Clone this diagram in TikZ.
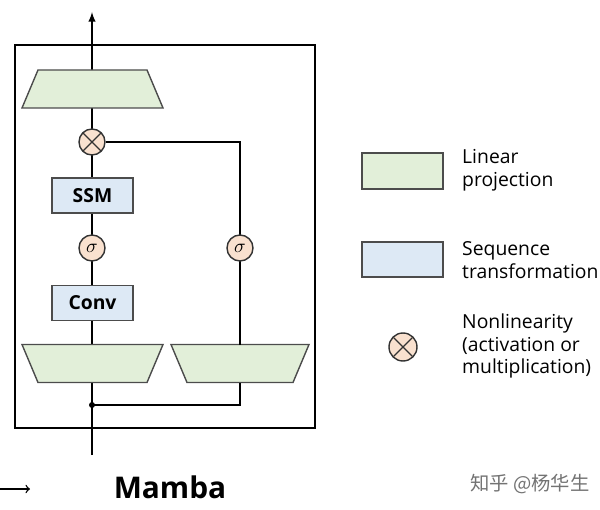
\documentclass[tikz,border=0pt]{standalone}
\usepackage{fontspec}
\setmainfont{Open Sans}
\newfontfamily\cjk{Noto Sans CJK SC}
\usetikzlibrary{calc,positioning,arrows}
\definecolor{lingreen}{HTML}{E2EFD9}
\definecolor{seqblue}{HTML}{DDE9F5}
\definecolor{nlpeach}{HTML}{F9E1CF}
\begin{document}
\begin{tikzpicture}[font=\fontsize{11}{13}\selectfont]
          % Setup the styles
          \tikzset{proj style/.style={draw=black!70, line width=0.8pt, fill=lingreen},
                   seq style/.style={rectangle, draw=black!70, line width=0.8pt,
                                     fill=seqblue, minimum width=1.62cm,
                                     minimum height=0.7cm, font=\fontsize{11}{13}\selectfont\bfseries},
                   nl style/.style={circle, draw=black!80, line width=0.8pt,
                                    fill=nlpeach, minimum size=0.52cm, inner sep=0pt},
                   mul style/.style={nl style,
                                     path picture={\draw[line width=0.8pt]
                                       ($(path picture bounding box.center)+(45:0.26)$) --
                                       ($(path picture bounding box.center)+(225:0.26)$)
                                       ($(path picture bounding box.center)+(135:0.26)$) --
                                       ($(path picture bounding box.center)+(315:0.26)$);}},
                   wire/.style={line width=0.9pt}}
          \useasboundingbox (0,0) rectangle (12,10.18);
          % Main arrow through the block
          \coordinate (in) at (1.84,1.08);
          \coordinate (out) at (1.84,9.94);
          \coordinate (fork) at (1.84,2.08);
          \coordinate (gatetop) at (4.8,3.29);
          \coordinate (gatebot) at (4.8,2.53);
          \draw[wire,-latex] (in) -- (out);
          % Outer box
          \node[draw, line width=1.7pt, minimum width=6cm, minimum height=7.66cm,
                inner sep=0pt] (block) at (3.3,5.45) {};
          % Projections
          \draw[proj style] (0.44,8.02) -- (3.26,8.02) -- (2.94,8.78) -- (0.76,8.78) -- cycle;
          \draw[proj style] (0.44,3.29) -- (3.26,3.29) -- (2.94,2.53) -- (0.76,2.53) -- cycle;
          \draw[proj style] (3.42,3.29) -- (6.18,3.29) -- (5.86,2.53) -- (3.74,2.53) -- cycle;
          % Draw the blocks
          \node[mul style] at (1.84,7.34) (mul) {};
          \node[seq style] at (1.85,6.27) (ssm) {SSM};
          \node[nl style] at (1.84,5.22) (act) {$\sigma$};
          \node[seq style] at (1.85,4.12) (conv) {Conv};
          % Gate branch
          \draw[wire] (mul.east) -| (gatetop);
          \draw[wire] (fork) -| (gatebot);
          \node[nl style] at (4.8,5.22) (gateact) {$\sigma$};
          \fill (fork) circle (0.06);
          % Legend
          \node[seq style, fill=lingreen, minimum height=0.72cm] at (8.05,6.76) (keylin) {};
          \node[anchor=west, align=left] at (9.12,6.78) (keylintext) {Linear\\projection};
          \node[seq style] at (8.05,4.99) (keyseq) {};
          \node[anchor=west, align=left] at (9.12,4.98) (keyseqtext) {Sequence\\transformation};
          \node[mul style, minimum size=0.56cm] at (8.06,3.24) (keynl) {};
          \node[anchor=west, align=left] at (9.12,3.26) (keynltext) {Nonlinearity\\(activation or\\multiplication)};
          % Caption
          \node[font=\fontsize{17}{20}\selectfont\bfseries] at (3.4,0.44) (title) {Mamba};
          \coordinate (stubA) at (0,0.4);
          \coordinate (stubB) at (0.6,0.4);
          \draw[line width=0.8pt,->] (stubA) -- (stubB);
          \node[text=black!55, font=\fontsize{11}{13}\cjk] at (10.6,0.5) (mark) {知乎 @杨华生};
\end{tikzpicture}
\end{document}
